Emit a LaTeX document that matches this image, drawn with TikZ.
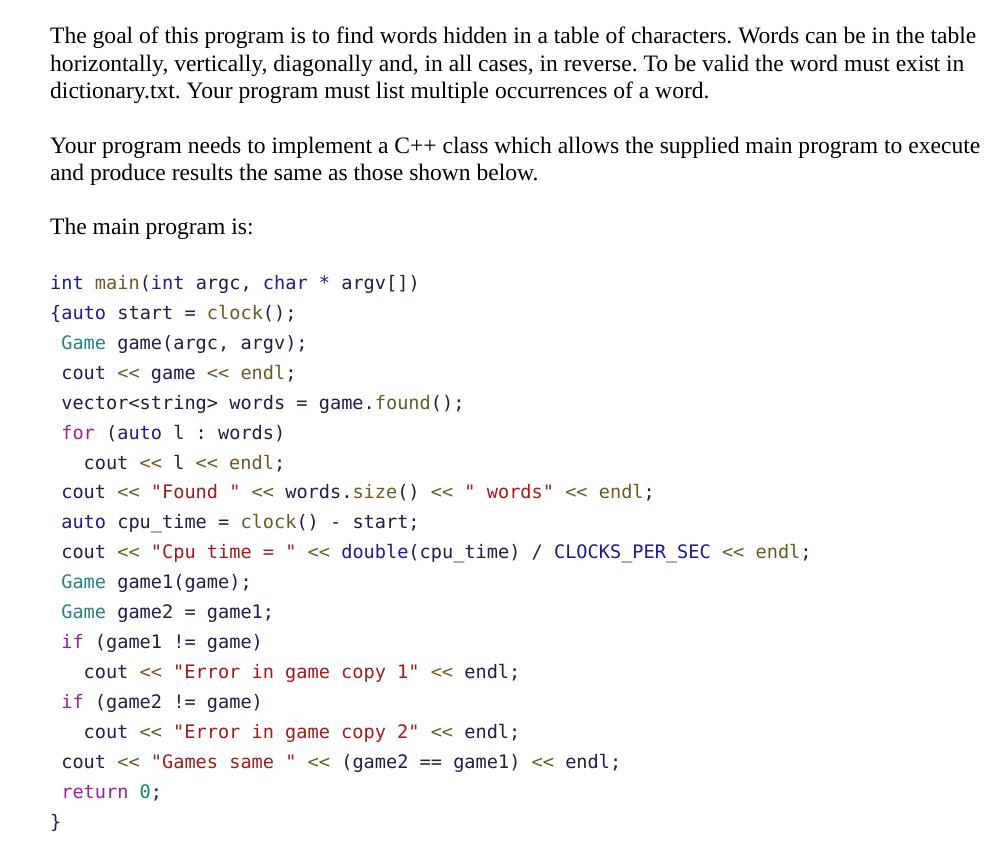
\documentclass[tikz,border=0pt]{standalone}
\usepackage{fontspec}
\setmainfont{Liberation Serif}
\setmonofont{DejaVu Sans Mono}
\usepackage{xcolor}
\frenchspacing
\definecolor{kw}{HTML}{1C1C8C}
\definecolor{idn}{HTML}{1E1E4A}
\definecolor{fn}{HTML}{6B5A26}
\definecolor{ty}{HTML}{2A7F80}
\definecolor{ctl}{HTML}{A0209A}
\definecolor{str}{HTML}{A31A1A}
\definecolor{num}{HTML}{0A8A5A}
\newcommand\cK[1]{\textcolor{kw}{#1}}
\newcommand\cF[1]{\textcolor{fn}{#1}}
\newcommand\cT[1]{\textcolor{ty}{#1}}
\newcommand\cC[1]{\textcolor{ctl}{#1}}
\newcommand\cS[1]{\textcolor{str}{#1}}
\newcommand\cN[1]{\textcolor{num}{#1}}
\begin{document}
\begin{tikzpicture}[x=1pt,y=-1pt,
  prose/.style={anchor=base west,inner sep=0pt,font=\fontsize{23.55}{28}\selectfont},
  code/.style={anchor=base west,inner sep=0pt,text=idn,font=\ttfamily\fontsize{18.6}{22}\selectfont}]
\useasboundingbox (0,0) rectangle (1008,867);
\node[prose] (p1) at (50,44) {The goal of this program is to find words hidden in a table of characters. Words can be in the table};
\node[prose] (p2) at (50,71) {horizontally, vertically, diagonally and, in all cases, in reverse. To be valid the word must exist in};
\node[prose] (p3) at (50,98) {dictionary.txt. Your program must list multiple occurrences of a word.};
\node[prose] (p4) at (50,153) {Your program needs to implement a C++ class which allows the supplied main program to execute};
\node[prose] (p5) at (50,180) {and produce results the same as those shown below.};
\node[prose] (p6) at (50,234) {The main program is:};
\def\cw{11.15}
\node[code] (c0) at (50,289) {\cK{int} \cF{main}(\cK{int} argc, \cK{char} \cK{*} argv[])};
\node[code] (c1) at (50,319) {\{\cK{auto} start = \cF{clock}();};
\node[code] (c2) at (50+\cw,349) {\cT{Game} game(argc, argv);};
\node[code] (c3) at (50+\cw,379) {cout \cF{<<} game \cF{<<} \cF{endl};};
\node[code] (c4) at (50+\cw,409) {vector<string> words = game.\cF{found}();};
\node[code] (c5) at (50+\cw,439) {\cC{for} (\cK{auto} l : words)};
\node[code] (c6) at (50+3*\cw,469) {cout \cF{<<} l \cF{<<} \cF{endl};};
\node[code] (c7) at (50+\cw,498) {cout \cF{<<} \cS{"Found "} \cF{<<} words.\cF{size}() \cF{<<} \cS{" words"} \cF{<<} \cF{endl};};
\node[code] (c8) at (50+\cw,528) {\cK{auto} cpu\_time = \cF{clock}() - start;};
\node[code] (c9) at (50+\cw,558) {cout \cF{<<} \cS{"Cpu time = "} \cF{<<} \cK{double}(cpu\_time) / \cK{CLOCKS\_PER\_SEC} \cF{<<} \cF{endl};};
\node[code] (c10) at (50+\cw,588) {\cT{Game} game1(game);};
\node[code] (c11) at (50+\cw,618) {\cT{Game} game2 = game1;};
\node[code] (c12) at (50+\cw,648) {\cC{if} (game1 != game)};
\node[code] (c13) at (50+3*\cw,678) {cout \cF{<<} \cS{"Error in game copy 1"} \cF{<<} endl;};
\node[code] (c14) at (50+\cw,708) {\cC{if} (game2 != game)};
\node[code] (c15) at (50+3*\cw,738) {cout \cF{<<} \cS{"Error in game copy 2"} \cF{<<} endl;};
\node[code] (c16) at (50+\cw,768) {cout \cF{<<} \cS{"Games same "} \cF{<<} (game2 == game1) \cF{<<} endl;};
\node[code] (c17) at (50+\cw,798) {\cC{return} \cN{0};};
\node[code] (c18) at (50,828) {\}};
\end{tikzpicture}
\end{document}
